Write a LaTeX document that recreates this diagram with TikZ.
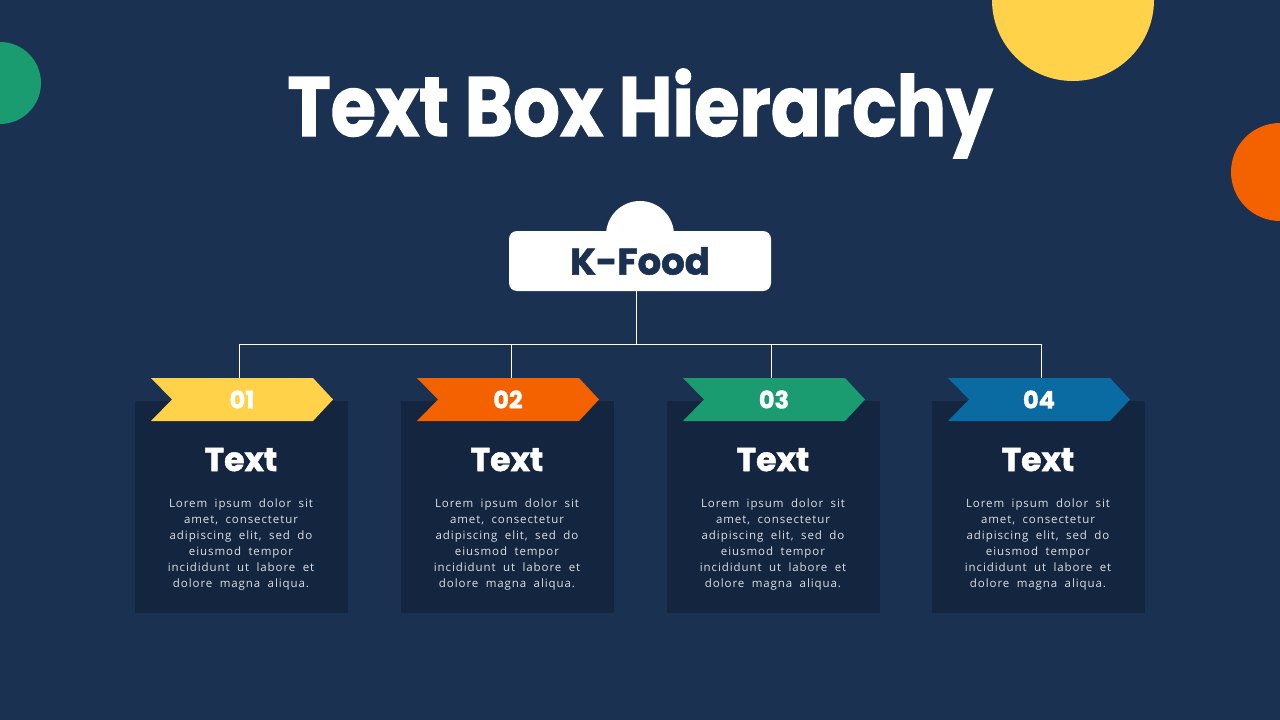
\documentclass[tikz,border=0pt]{standalone}
\usepackage{fontspec}
\setmainfont{Poppins}
\newfontfamily\heavy{Poppins}[BoldFeatures={FakeBold=1.5}]
\newfontfamily\bodyfont{Open Sans}[LetterSpace=8,WordSpace=1.9]
\definecolor{bg}{HTML}{1A3152}
\definecolor{card}{HTML}{13253F}
\definecolor{cy}{HTML}{FFD24A}
\definecolor{co}{HTML}{F46200}
\definecolor{cg}{HTML}{1B9C70}
\definecolor{cb}{HTML}{0A6AA2}
\definecolor{lorem}{HTML}{DCE2EA}
\tikzset{
  conn/.style={draw=white, line width=1pt},
  cardbox/.style={fill=card, minimum width=213, minimum height=212, anchor=north west, inner sep=0},
  bannerlbl/.style={minimum width=182, minimum height=43, inner sep=0, text=white, font=\heavy\fontsize{24}{24}\selectfont\bfseries},
  cardtitle/.style={anchor=base, text=white, font=\heavy\fontsize{33}{33}\selectfont\bfseries},
  cardbody/.style={anchor=north, inner sep=0, align=center, text=lorem, font=\bodyfont\fontsize{11.5}{16}\selectfont}
}
\begin{document}
\begin{tikzpicture}[x=1pt,y=-1pt]
\useasboundingbox (0,0) rectangle (1280,720);
\fill[bg] (0,0) rectangle (1280,720);
\begin{scope}
\clip (0,0) rectangle (1280,720);
\fill[cg] (0,83) circle[radius=41];
\fill[cy] (1073,0) circle[radius=81];
\fill[co] (1280,172) circle[radius=49];
\end{scope}
\node[anchor=base, text=white, inner sep=0, font=\heavy\fontsize{84}{84}\selectfont\bfseries] (title) at (640,136) {\scalebox{0.875}[1]{Text Box Hierarchy}};
% K-Food
\fill[white] (640,235) circle[radius=34];
\node[fill=white, rounded corners=8, minimum width=262, minimum height=60, inner sep=0, text=bg, font=\heavy\fontsize{37}{37}\selectfont\bfseries] (kfood) at (640,261) {K-Food};
\coordinate (j) at (636,344);
\foreach \i/\o/\c/\lx in {1/0/cy/239, 2/266/co/511, 3/532/cg/771, 4/797/cb/1041}{
  \node[cardbox] (card\i) at (135+\o,401) {};
  \fill[\c] (151+\o,378) -- (313+\o,378) -- (333+\o,399.5) -- (313+\o,421) -- (151+\o,421) -- (172+\o,399.5) -- cycle;
  \node[bannerlbl] (b\i) at (242+\o,399.5) {0\i};
  \coordinate (c\i) at (\lx,344);
  \draw[conn] (c\i) -- (c\i |- b\i.north);
  \node[cardtitle] (t\i) at (241+\o,471) {Text};
  \node[cardbody] (d\i) at (241+\o,498.5) {Lorem ipsum dolor sit\\amet, consectetur\\adipiscing elit, sed do\\eiusmod tempor\\incididunt ut labore et\\dolore magna aliqua.};
}
\draw[conn] (kfood.south -| j) -- (j);
\draw[conn] (c1) -- (c4);
\end{tikzpicture}
\end{document}
